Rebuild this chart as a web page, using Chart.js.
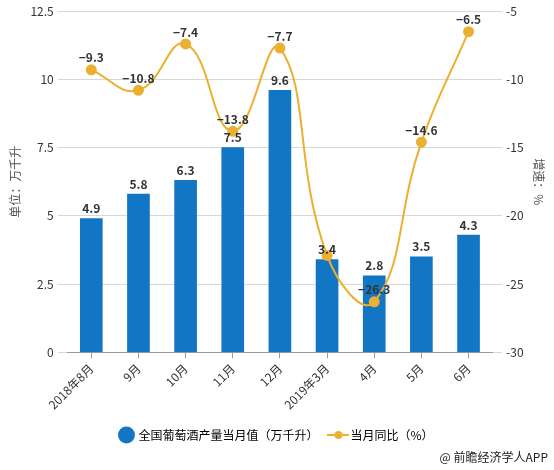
<!DOCTYPE html>
<html>
<head>
<meta charset="utf-8">
<script src="https://cdn.jsdelivr.net/npm/chart.js@4"></script>
<style>
  html, body { margin: 0; padding: 0; background: #fff; }
  #wrap { width: 554px; height: 470px; position: relative; }
</style>
</head>
<body>
<div id="wrap"><canvas id="myChart"></canvas></div>
<script>
const months = ['2018年8月', '9月', '10月', '11月', '12月', '2019年3月', '4月', '5月', '6月'];
const output = [4.9, 5.8, 6.3, 7.5, 9.6, 3.4, 2.8, 3.5, 4.3];
const growth = [-9.3, -10.8, -7.4, -13.8, -7.7, -22.9, -26.3, -14.6, -6.5];
const growthShown = [true, true, true, true, true, false, true, true, true];
const leftTicks = [0, 2.5, 5, 7.5, 10, 12.5];
const rightTicks = [-30, -25, -20, -15, -10, -5];

const FONT = '"Noto Sans CJK SC", "Noto Sans", sans-serif';
const BLUE = '#1376c4';
const ORANGE = '#eab02f';

// little line-with-dot icon for the legend
function lineIcon() {
    const c = document.createElement('canvas');
    c.width = 22; c.height = 10;
    const g = c.getContext('2d');
    g.strokeStyle = ORANGE; g.lineWidth = 2;
    g.beginPath(); g.moveTo(0, 5); g.lineTo(22, 5); g.stroke();
    g.fillStyle = ORANGE;
    g.beginPath(); g.arc(11, 5, 4, 0, Math.PI * 2); g.fill();
    return c;
}

const valueLabels = {
    id: 'valueLabels',
    afterDatasetsDraw(chart) {
        const ctx = chart.ctx;
        ctx.save();
        ctx.font = 'bold 12px ' + FONT;
        ctx.fillStyle = '#333';
        ctx.textAlign = 'center';
        ctx.textBaseline = 'bottom';
        chart.getDatasetMeta(0).data.forEach((bar, i) => {
            ctx.fillText(output[i].toFixed(1), bar.x, bar.y - 4);
        });
        chart.getDatasetMeta(1).data.forEach((pt, i) => {
            if (!growthShown[i]) return;
            ctx.fillText(growth[i].toFixed(1).replace('-', '−'), pt.x, pt.y - 6);
        });
        ctx.restore();
    },
    afterDraw(chart) {
        const ctx = chart.ctx;
        ctx.save();
        ctx.font = '12px ' + FONT;
        ctx.fillStyle = '#222';
        ctx.textAlign = 'right';
        ctx.textBaseline = 'middle';
        ctx.fillText('@ 前瞻经济学人APP', 548, 457);
        ctx.restore();
    }
};

new Chart(document.getElementById('myChart'), {
    type: 'bar',
    data: {
        labels: months,
        datasets: [{
            type: 'bar',
            label: '全国葡萄酒产量当月值（万千升）',
            data: output,
            backgroundColor: BLUE,
            barThickness: 22,
            yAxisID: 'y',
            order: 2
        }, {
            type: 'line',
            label: '当月同比（%）',
            data: growth,
            borderColor: ORANGE,
            backgroundColor: ORANGE,
            borderWidth: 2,
            pointRadius: 4.5,
            pointHoverRadius: 4.5,
            tension: 0.45,
            yAxisID: 'y1',
            order: 1
        }]
    },
    options: {
        responsive: true,
        maintainAspectRatio: false,
        animation: false,
        layout: { padding: { top: 10, left: 4, right: 4, bottom: 19 } },
        plugins: {
            tooltip: { enabled: false },
            legend: {
                position: 'bottom',
                labels: {
                    font: { family: FONT, size: 12 },
                    color: '#222',
                    usePointStyle: true,
                    padding: 14,
                    generateLabels(chart) {
                        return chart.data.datasets.map((ds, i) => ({
                            text: ds.label,
                            fillStyle: ds.backgroundColor,
                            strokeStyle: ds.backgroundColor,
                            lineWidth: 0,
                            pointStyle: i === 0 ? 'circle' : lineIcon(),
                            datasetIndex: i
                        }));
                    }
                }
            }
        },
        scales: {
            x: {
                grid: { display: true, drawOnChartArea: false, offset: false, color: '#999', tickLength: 6 },
                border: { color: '#999' },
                ticks: { font: { family: FONT, size: 12 }, color: '#333', maxRotation: 45, minRotation: 45, autoSkip: false }
            },
            y: {
                position: 'left',
                min: 0, max: 12.5,
                afterBuildTicks(axis) { axis.ticks = leftTicks.map(v => ({ value: v })); },
                grid: { color: '#d8d8d8', tickLength: 10 },
                border: { display: false },
                ticks: { font: { family: FONT, size: 12 }, color: '#333', padding: 4 },
                title: { display: true, text: '单位：万千升', font: { family: FONT, size: 12 }, color: '#555' }
            },
            y1: {
                position: 'right',
                min: -30, max: -5,
                afterBuildTicks(axis) { axis.ticks = rightTicks.map(v => ({ value: v })); },
                grid: { drawOnChartArea: false, color: '#d8d8d8', tickLength: 10 },
                border: { display: false },
                ticks: { font: { family: FONT, size: 12 }, color: '#333', padding: 4 },
                title: { display: true, text: '增速：%', font: { family: FONT, size: 12 }, color: '#555' }
            }
        }
    },
    plugins: [valueLabels]
});
</script>
</body>
</html>
